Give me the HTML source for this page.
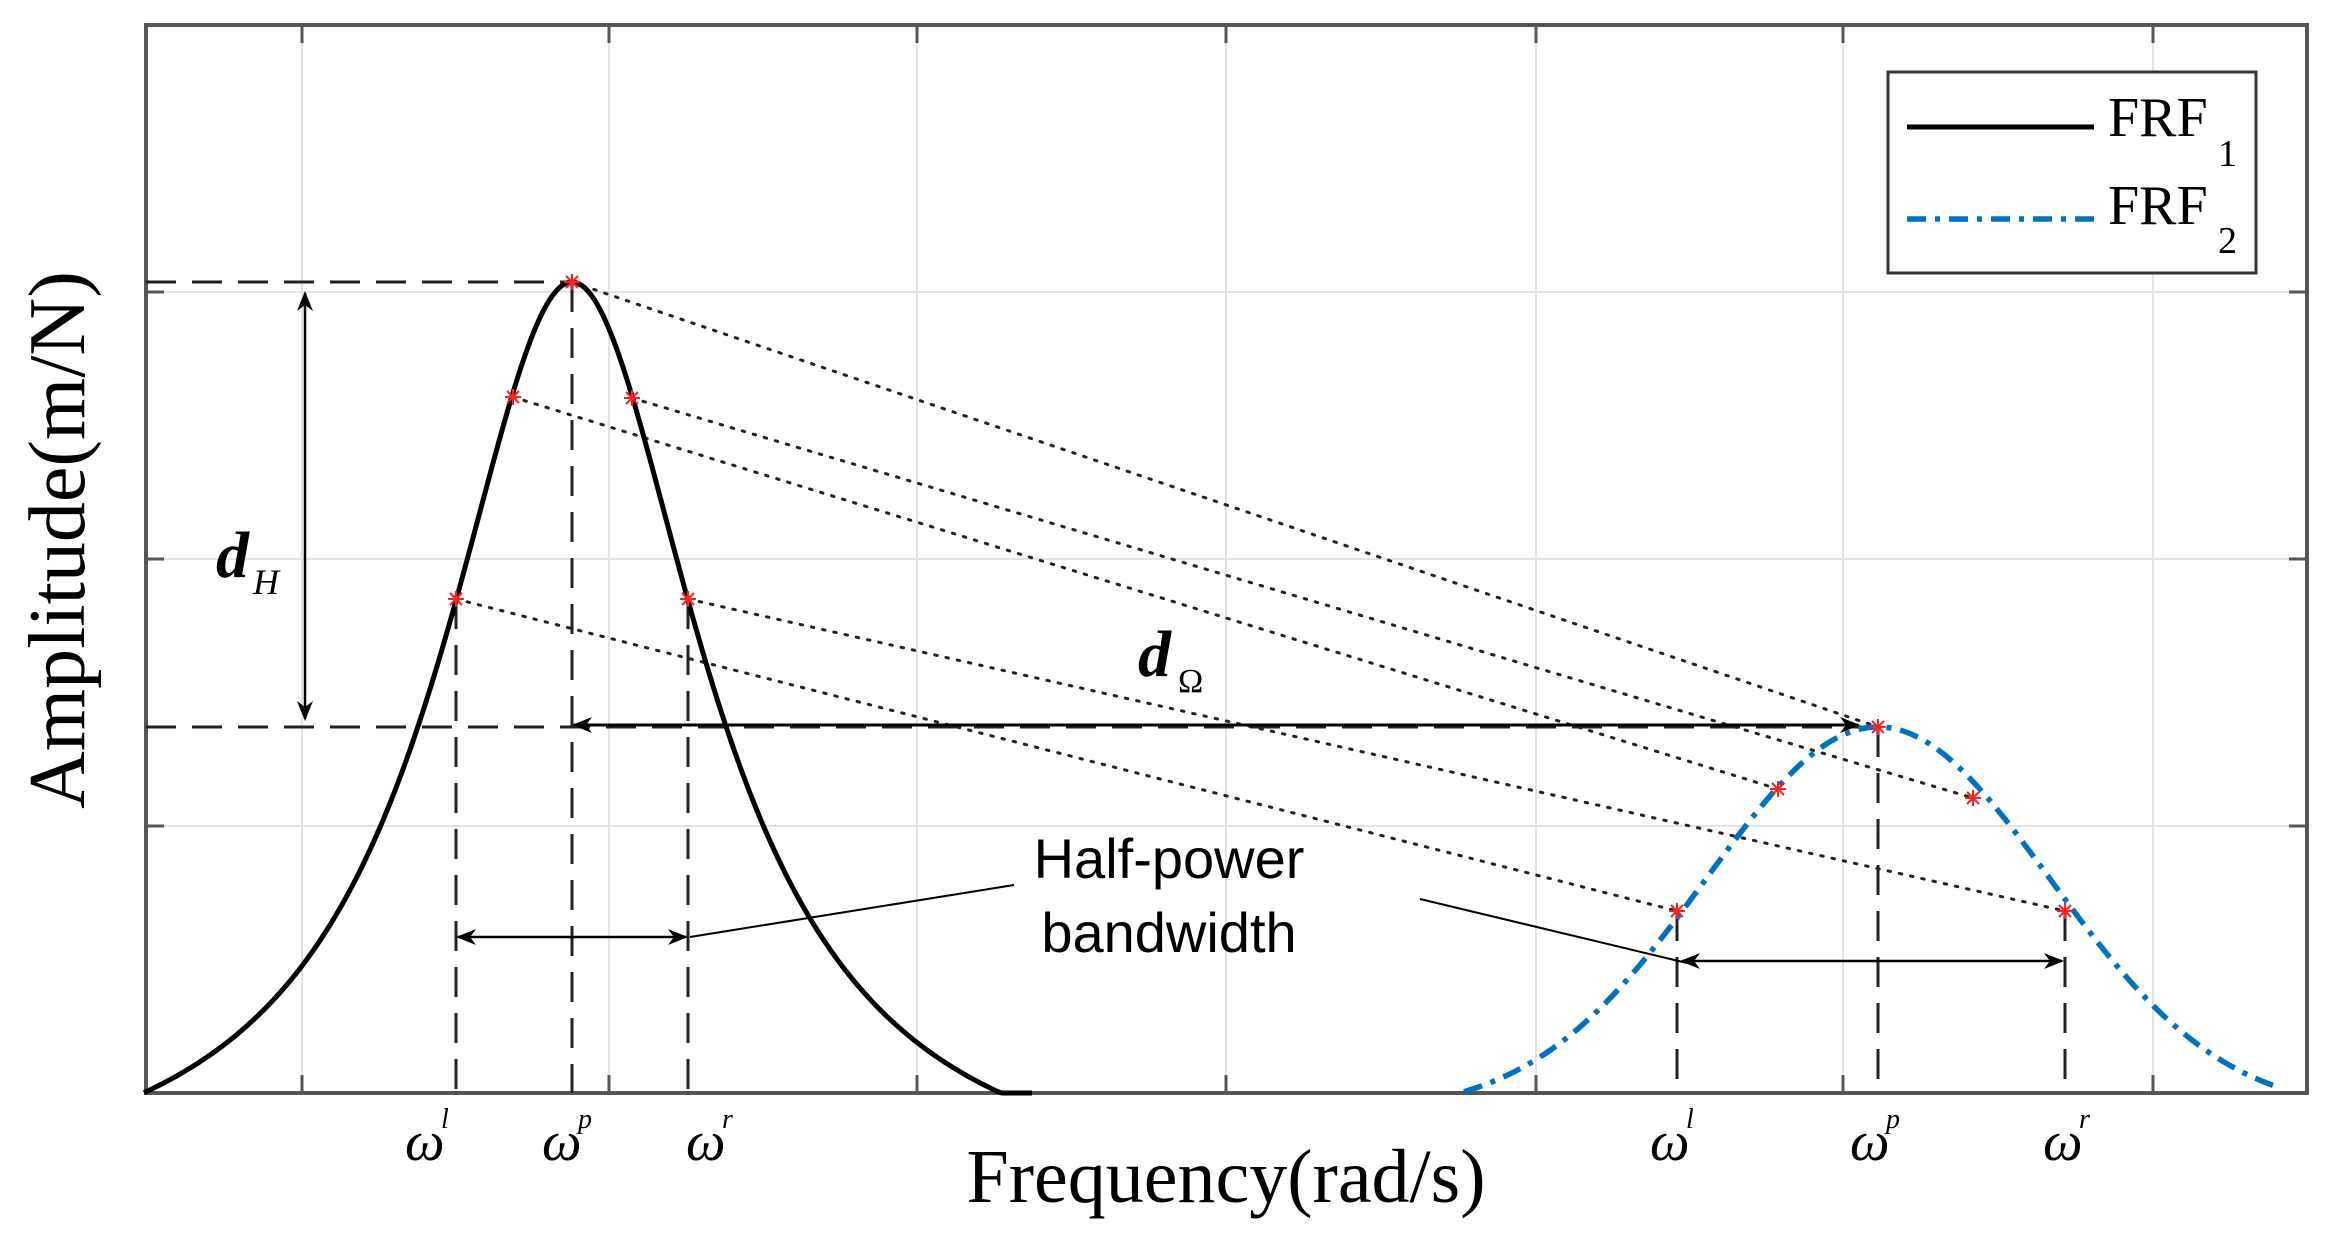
<!DOCTYPE html>
<html><head><meta charset="utf-8"><style>
html,body{margin:0;padding:0;background:#fff;}
svg{display:block;}
text{font-family:"Liberation Serif",serif;}
</style></head><body>
<svg id="s" width="2331" height="1240" viewBox="0 0 2331 1240" xmlns="http://www.w3.org/2000/svg">
<defs>
<marker id="ah" viewBox="0 0 20 20" refX="18" refY="10" markerWidth="20" markerHeight="20" markerUnits="userSpaceOnUse" orient="auto-start-reverse">
<path d="M0,2 L20,10 L0,18 L6,10 Z" fill="#000"/>
</marker>
</defs>
<rect width="2331" height="1240" fill="#fff"/>
<g stroke="#e3e3e3" stroke-width="2">
<line x1="302" y1="25" x2="302" y2="1093"/><line x1="609" y1="25" x2="609" y2="1093"/>
<line x1="917" y1="25" x2="917" y2="1093"/><line x1="1226" y1="25" x2="1226" y2="1093"/>
<line x1="1536" y1="25" x2="1536" y2="1093"/><line x1="1843" y1="25" x2="1843" y2="1093"/>
<line x1="2153" y1="25" x2="2153" y2="1093"/>
<line x1="146" y1="292" x2="2307" y2="292"/><line x1="146" y1="559" x2="2307" y2="559"/>
<line x1="146" y1="826" x2="2307" y2="826"/>
</g>
<g stroke="#555" stroke-width="3">
<path d="M302,1093v-18M609,1093v-18M917,1093v-18M1226,1093v-18M1536,1093v-18M1843,1093v-18M2153,1093v-18"/>
<path d="M302,25v18M609,25v18M917,25v18M1226,25v18M1536,25v18M1843,25v18M2153,25v18"/>
<path d="M146,292h18M146,559h18M146,826h18M2307,292h-18M2307,559h-18M2307,826h-18M146,25h18M146,1093h18M2307,1093h-18"/>
</g>
<rect x="146" y="25" width="2161" height="1068" fill="none" stroke="#555" stroke-width="4"/>
<g stroke="#222" stroke-width="3" stroke-dasharray="2.5,9" stroke-linecap="round">
<line x1="572" y1="282" x2="1878" y2="727"/>
<line x1="513" y1="397" x2="1778" y2="789"/>
<line x1="632" y1="398" x2="1973" y2="798"/>
<line x1="456" y1="599" x2="1677" y2="911"/>
<line x1="688" y1="599" x2="2065" y2="911"/>
</g>
<g stroke="#222" stroke-width="3" stroke-dasharray="30,16" fill="none">
<line x1="146" y1="282" x2="572" y2="282"/>
<line x1="146" y1="727" x2="1878" y2="727"/>
<line x1="572" y1="282" x2="572" y2="1093"/>
<line x1="456" y1="599" x2="456" y2="1093"/>
<line x1="688" y1="599" x2="688" y2="1093"/>
<line x1="1878" y1="727" x2="1878" y2="1093"/>
<line x1="1677" y1="911" x2="1677" y2="1093"/>
<line x1="2065" y1="911" x2="2065" y2="1093"/>
</g>
<path id="c1" fill="none" stroke="#000" stroke-width="5"/>
<path id="c2" fill="none" stroke="#0072BD" stroke-width="5.5" stroke-dasharray="19,9,5,9"/>
<g stroke="#000" stroke-width="2.5" fill="none">
<line x1="305" y1="293" x2="305" y2="719" marker-start="url(#ah)" marker-end="url(#ah)"/>
<line x1="574" y1="725" x2="1858" y2="725" marker-start="url(#ah)" marker-end="url(#ah)" stroke-width="3"/>
<line x1="458" y1="937" x2="686" y2="937" marker-start="url(#ah)" marker-end="url(#ah)"/>
<line x1="1682" y1="961" x2="2062" y2="961" marker-start="url(#ah)" marker-end="url(#ah)"/>
<line x1="1014" y1="885" x2="690" y2="937" stroke-width="2"/>
<line x1="1420" y1="899" x2="1687" y2="963" stroke-width="2"/>
</g>
<g id="mk" stroke="#ff2020" stroke-width="2"></g>
<text x="1169" y="878" font-size="56" text-anchor="middle" style="font-family:'Liberation Sans',sans-serif">Half-power</text>
<text x="1169" y="952" font-size="56" text-anchor="middle" style="font-family:'Liberation Sans',sans-serif">bandwidth</text>
<text x="216" y="577" font-size="66" font-weight="bold" font-style="italic">d</text>
<text x="253" y="594" font-size="36" font-style="italic">H</text>
<text x="1138" y="676" font-size="66" font-weight="bold" font-style="italic">d</text>
<text x="1178" y="692" font-size="34">Ω</text>
<g font-size="56" font-style="italic">
<text x="405" y="1160">ω</text><text x="441" y="1128" font-size="28">l</text>
<text x="542" y="1160">ω</text><text x="578" y="1128" font-size="28">p</text>
<text x="686" y="1160">ω</text><text x="722" y="1128" font-size="28">r</text>
<text x="1650" y="1160">ω</text><text x="1686" y="1128" font-size="28">l</text>
<text x="1850" y="1160">ω</text><text x="1886" y="1128" font-size="28">p</text>
<text x="2043" y="1160">ω</text><text x="2079" y="1128" font-size="28">r</text>
</g>
<text x="1226" y="1202" font-size="76" text-anchor="middle">Frequency(rad/s)</text>
<text transform="translate(84,540) rotate(-90)" font-size="80" text-anchor="middle">Amplitude(m/N)</text>
<rect x="1888" y="72" width="368" height="201" fill="#fff" stroke="#333" stroke-width="3"/>
<line x1="1907" y1="127" x2="2094" y2="127" stroke="#000" stroke-width="5"/>
<line x1="1907" y1="219" x2="2094" y2="219" stroke="#0072BD" stroke-width="5.5" stroke-dasharray="19,9,5,9"/>
<text x="2108" y="136" font-size="56">FRF</text><text x="2218" y="166" font-size="38">1</text>
<text x="2108" y="224" font-size="56">FRF</text><text x="2218" y="253" font-size="38">2</text>
</svg>
<script>
(function(){
var B=1093,d1="",d2="";
for(var x=144;x<=1033;x+=3){var t=(x-572)/160;var h=924/(1+t*t)-113;if(h<0)h=0;d1+=(d1?"L":"M")+x+","+(B-h).toFixed(1);}
document.getElementById("c1").setAttribute("d",d1);
for(var x=1464;x<=2282;x+=3){var t=(x-1878);var h=386*Math.exp(-t*t/(2*172*172))-20;if(h<0)h=0;d2+=(d2?"L":"M")+x+","+(B-h).toFixed(1);}
document.getElementById("c2").setAttribute("d",d2);
var pts=[[572,282],[513,397],[632,398],[456,599],[688,599],[1878,727],[1778,789],[1973,798],[1677,911],[2065,911]];
var g=document.getElementById("mk"),s="";
pts.forEach(function(p){var x=p[0],y=p[1],r=8;
s+='<path d="M'+(x-r)+','+y+'h'+(2*r)+'M'+x+','+(y-r)+'v'+(2*r)+'M'+(x-6)+','+(y-6)+'l12,12M'+(x-6)+','+(y+6)+'l12,-12"/>';});
g.innerHTML=s;
})();
</script>
</body></html>
